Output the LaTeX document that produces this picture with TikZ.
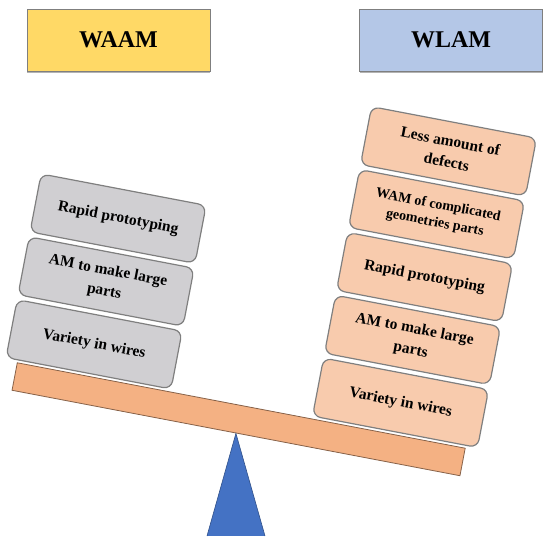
\documentclass[tikz,border=0pt]{standalone}
\usepackage{fontspec}
\setmainfont{Liberation Serif}
\usetikzlibrary{positioning, shadows}

\definecolor{waamyellow}{HTML}{FFD966}
\definecolor{wlamblue}{HTML}{B4C7E7}
\definecolor{boxgray}{HTML}{D0CFD2}
\definecolor{boxorange}{HTML}{F8CBAD}
\definecolor{beamorange}{HTML}{F4B183}
\definecolor{pivotblue}{HTML}{4472C4}
\definecolor{edgegray}{HTML}{7F7F7F}

\tikzset{
  header/.style={draw=edgegray, line width=0.8pt, minimum width=183, minimum height=62,
    font=\fontsize{24}{26}\selectfont\bfseries,
    drop shadow={shadow xshift=0pt, shadow yshift=-2pt, opacity=0.6}},
  item/.style={draw=edgegray, line width=1.2pt, rounded corners=8, minimum width=168,
    minimum height=59, align=center, font=\fontsize{15.5}{21}\selectfont\bfseries},
  grayitem/.style={item, fill=boxgray},
  orangeitem/.style={item, fill=boxorange},
  beambar/.style={draw=beamorange!55!black, line width=0.8pt, fill=beamorange,
    minimum width=456, minimum height=28}
}

\begin{document}
\begin{tikzpicture}[x=1pt, y=1pt]
\useasboundingbox (0,0) rectangle (550,544);

% headers
\node[header, fill=waamyellow] (waam) at (118.5,504) {WAAM};
\node[header, fill=wlamblue] (wlam) at (451,504) {WLAM};

% seesaw, tilted to the right
\begin{scope}[shift={(236,111)}, rotate=-10.8, transform shape]
  \node[beambar] (beam) at (0,14) {};

  % WAAM side
  \node[grayitem] (l3) at (-156,60.5) {Variety in wires};
  \node[grayitem] (l2) at (-156,124.5) {AM to make large\\parts};
  \node[grayitem] (l1) at (-156,188.5) {Rapid prototyping};

  % WLAM side
  \node[orangeitem] (r5) at (156,60.5) {Variety in wires};
  \node[orangeitem] (r4) at (156,124.5) {AM to make large\\parts};
  \node[orangeitem] (r3) at (156,188.5) {Rapid prototyping};
  \node[orangeitem, font=\fontsize{14}{18}\selectfont\bfseries] (r2) at (156,252.5) {WAM of complicated\\geometries parts};
  \node[orangeitem] (r1) at (156,316.5) {Less amount of\\defects};
\end{scope}

% pivot
\coordinate (baseL) at (207,8);
\coordinate (baseR) at (265,8);
\fill[pivotblue] (beam.south) -- (baseL) -- (baseR) -- cycle;
\draw[pivotblue!70!black, line width=0.6pt] (baseL) -- (beam.south) -- (baseR);
\end{tikzpicture}
\end{document}
